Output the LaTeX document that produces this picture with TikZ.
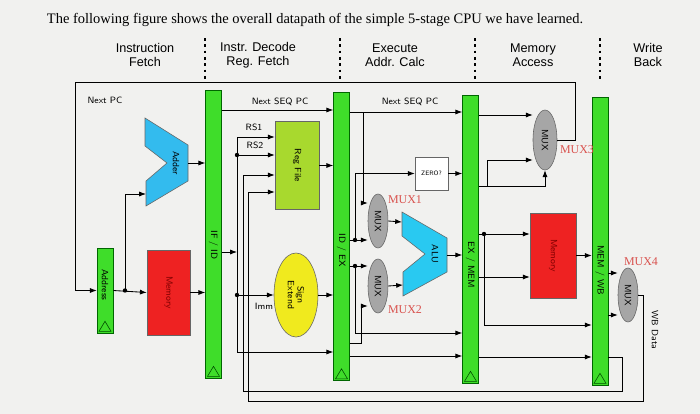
\documentclass[tikz,border=0pt]{standalone}
\usepackage{fontspec}
\setmainfont{Liberation Sans}
\newfontfamily\serifff{Liberation Serif}
\usetikzlibrary{arrows.meta, shapes.geometric}
\definecolor{bgG}{HTML}{F1F1EF}
\definecolor{regG}{HTML}{3FDD2A}
\definecolor{memR}{HTML}{EE2222}
\definecolor{aluB}{HTML}{33BBEE}
\definecolor{rfG}{HTML}{A8D92E}
\definecolor{sxY}{HTML}{F0EA1E}
\definecolor{muxR}{HTML}{D9534F}
\tikzstyle{preg} = [rectangle, draw=green!40!black, fill=regG, minimum width=0.4cm, minimum height=7.2cm]
\tikzstyle{block} = [rectangle, draw=black!60, inner sep=0pt]
\tikzstyle{mux} = [ellipse, draw=black!60, fill=gray!70, minimum width=0.5cm, minimum height=1.35cm, inner sep=0pt]
\tikzstyle{rtext} = [rotate=-90, font=\sffamily\fontsize{6.5}{7}\selectfont]
\tikzstyle{lbl} = [font=\sffamily\fontsize{6.5}{7}\selectfont]
\tikzstyle{mlbl} = [font=\serifff\fontsize{8.5}{9}\selectfont, text=muxR]
\tikzstyle{wire} = [draw, semithick, -{Latex[length=1.7mm]}]
\tikzstyle{dot} = [circle, fill, inner sep=1.1pt]

\begin{document}
\begin{tikzpicture}[x=0.025cm, y=-0.025cm]
    \useasboundingbox (0,0) rectangle (700,414);
    \fill [bgG] (0,0) rectangle (700,414);

    % headings
    \node (title) [anchor=west, font=\serifff\fontsize{10.3}{12}\selectfont] at (42,20) {The following figure shows the overall datapath of the simple 5-stage CPU we have learned.};
    \node (hif) [align=center, font=\fontsize{9}{10}\selectfont] at (145,55) {Instruction\\Fetch};
    \node (hid) [align=center, font=\fontsize{9}{10}\selectfont] at (258,55) {Instr. Decode\\Reg. Fetch};
    \node (hex) [align=center, font=\fontsize{9}{10}\selectfont] at (395,55) {Execute\\Addr. Calc};
    \node (hmem) [align=center, font=\fontsize{9}{10}\selectfont] at (533,55) {Memory\\Access};
    \node (hwb) [align=center, font=\fontsize{9}{10}\selectfont] at (648,55) {Write\\Back};
    \foreach \x in {205,340,475,600}
        \draw [thick, dash pattern=on 2pt off 2.5pt] (\x,38) -- (\x,80);

    % pipeline registers
    \node (ifid) [preg] at (213.5,234) {};
    \node (idex) [preg] at (341.5,236.5) {};
    \node (exmem) [preg] at (470.5,239) {};
    \node (memwb) [preg] at (600,241) {};
    \node (addr) [preg, minimum height=2.125cm] at (105,290.5) {};
    \foreach \b in {ifid,idex,exmem,memwb,addr}
        \draw [green!30!black] ([xshift=-0.15cm,yshift=0.05cm]\b.south) -- ([xshift=0.15cm,yshift=0.05cm]\b.south) -- ([yshift=0.3cm]\b.south) -- cycle;
    \node (ifidt) [rtext] at (213.5,245) {IF / ID};
    \node (idext) [rtext] at (341.5,250) {ID / EX};
    \node (exmemt) [rtext] at (470.5,265) {EX / MEM};
    \node (memwbt) [rtext] at (600,270) {MEM / WB};
    \node (addrt) [rtext] at (105,285) {Address};

    % blocks
    \node (imem) [block, fill=memR, minimum width=1.075cm, minimum height=2.125cm] at (168.5,292.5) {};
    \node (imemt) [rtext, text=red!50!black] at (168.5,292.5) {Memory};
    \node (rf) [block, fill=rfG, minimum width=1.1cm, minimum height=2.2cm] at (297,165.5) {};
    \node (rft) [rtext] at (297,165.5) {Reg File};
    \node (sx) [ellipse, draw=black!60, fill=sxY, minimum width=1.1cm, minimum height=2.1cm, inner sep=0pt] at (296,295) {};
    \node (sxt) [rtext, align=center] at (296,295) {Sign\\Extend};
    \node (zero) [block, fill=white, minimum width=0.825cm, minimum height=0.825cm, font=\sffamily\fontsize{4.5}{5}\selectfont] at (431.5,173.5) {ZERO?};
    \node (dmem) [block, fill=memR, minimum width=1.15cm, minimum height=2.125cm] at (553,255.5) {};
    \node (dmemt) [rtext, text=red!50!black] at (553,255.5) {Memory};

    \draw [draw=black!60, fill=aluB] (145,118) -- (188,145) -- (188,181) -- (146,206) -- (146,181) -- (167,163) -- (145,146) -- cycle;
    \node (addert) [rtext] at (176,163) {Adder};
    \coordinate (adderin) at (146,194);
    \coordinate (adderout) at (188,163);
    \draw [draw=black!60, fill=aluB!80!cyan] (402,212) -- (447,238) -- (447,272) -- (403,296) -- (403,272) -- (425,254) -- (402,236) -- cycle;
    \node (alut) [rtext] at (435,254) {ALU};
    \coordinate (aluin1) at (402,222);
    \coordinate (aluin2) at (403,285);
    \coordinate (aluout) at (447,255);

    % muxes
    \node (mux1) [mux] at (378,221) {};
    \node (mux2) [mux] at (378,286) {};
    \node (mux3) [mux, minimum width=0.6cm, minimum height=1.5cm] at (545,140) {};
    \node (mux4) [mux] at (628,295) {};
    \foreach \m in {mux1,mux2,mux3,mux4}
        \node (\m t) [rtext] at (\m) {MUX};
    \node (mux1l) [mlbl] at (405,200) {MUX1};
    \node (mux2l) [mlbl] at (405,310) {MUX2};
    \node (mux3l) [mlbl] at (577,150) {MUX3};
    \node (mux4l) [mlbl] at (641,262) {MUX4};

    % wire labels
    \node (npc) [lbl] at (105,100) {Next PC};
    \node (nseq1) [lbl] at (280,102) {Next SEQ PC};
    \node (nseq2) [lbl] at (410,102) {Next SEQ PC};
    \node (rs1) [lbl] at (254,127) {RS1};
    \node (rs2) [lbl] at (255,145) {RS2};
    \node (imm) [lbl] at (264,306) {Imm};
    \node (wbd) [lbl, rotate=-90] at (655,330) {WB Data};

    % IF
    \path [wire] (mux3.east) -- ++(18,0) |- (75,82) |- (addr.west);
    \path [wire] (addr.east) -- (imem.west);
    \path [wire] (125,290.5) |- (adderin);
    \path [wire] (adderout) -- (ifid.west |- adderout);
    \path [wire] (imem.east) -- (ifid.west |- imem.east);
    \node (d1) [dot] at (125,290.5) {};

    % ID
    \path [wire] (ifid.east |- 0,110) -- (idex.west |- 0,110);
    \path [wire] (ifid.east |- 0,252) -- (237,252);
    \path [wire] (237,352) -- (237,137) -- (rf.west |- 0,137);
    \path [wire] (237,155) -- (rf.west |- 0,155);
    \path [wire] (237,295) -- (sx.west);
    \path [wire] (237,352) -- (idex.west |- 0,352);
    \path [wire] (rf.east) -- (idex.west |- rf.east);
    \path [wire] (sx.east) -- (idex.west |- sx.east);
    \node (d2) [dot] at (237,155) {};
    \node (d3) [dot] at (237,295) {};

    % EX
    \path [wire] (idex.east |- 0,112) -- (exmem.west |- 0,112);
    \path [wire] (363,112) |- (mux1.west |- 0,203);
    \path [wire] (idex.east |- 0,240) -- (mux1.west |- 0,240);
    \path [wire] (355,240) |- (zero.west);
    \path [wire] (zero.east) -- (exmem.west |- zero.east);
    \path [wire] (idex.east |- 0,266) -- (mux2.west |- 0,266);
    \path [wire] (355,266) |- (exmem.west |- 0,333);
    \path [wire] (idex.east |- 0,343) -- (361,343) |- (mux2.west |- 0,306);
    \path [wire] (mux1.east) -- (aluin1);
    \path [wire] (mux2.east) -- (aluin2);
    \path [wire] (aluout) -- (exmem.west |- aluout);
    \path [wire] (idex.east |- 0,356) -- (exmem.west |- 0,356);
    \node (d4) [dot] at (355,240) {};
    \node (d5) [dot] at (355,266) {};

    % MEM
    \path [wire] (exmem.east |- 0,115) -- (mux3.west |- 0,115);
    \path [wire] (exmem.east |- 0,186) -| (mux3.south);
    \path [wire] (487,186) |- (mux3.west |- 0,160);
    \path [wire] (exmem.east |- 0,234) -- (dmem.west |- 0,234);
    \path [wire] (484,234) |- (memwb.west |- 0,325);
    \path [wire] (exmem.east |- 0,277) -- (dmem.west |- 0,277);
    \path [wire] (dmem.east) -- (memwb.west |- dmem.east);
    \path [wire] (exmem.east |- 0,357) -- (memwb.west |- 0,357);
    \node (d6) [dot] at (484,234) {};

    % WB
    \path [wire] (memwb.east |- 0,273) -- (mux4.west |- 0,273);
    \path [wire] (memwb.east |- 0,315) -- (mux4.west |- 0,315);
    \path [wire] (memwb.east |- 0,357) -- (622,357) -- (622,391) -- (243,391) |- (rf.west |- 0,175);
    \path [wire] (mux4.east) -- (643,295) -- (643,401) -- (248,401) |- (rf.west |- 0,192);
\end{tikzpicture}
\end{document}
